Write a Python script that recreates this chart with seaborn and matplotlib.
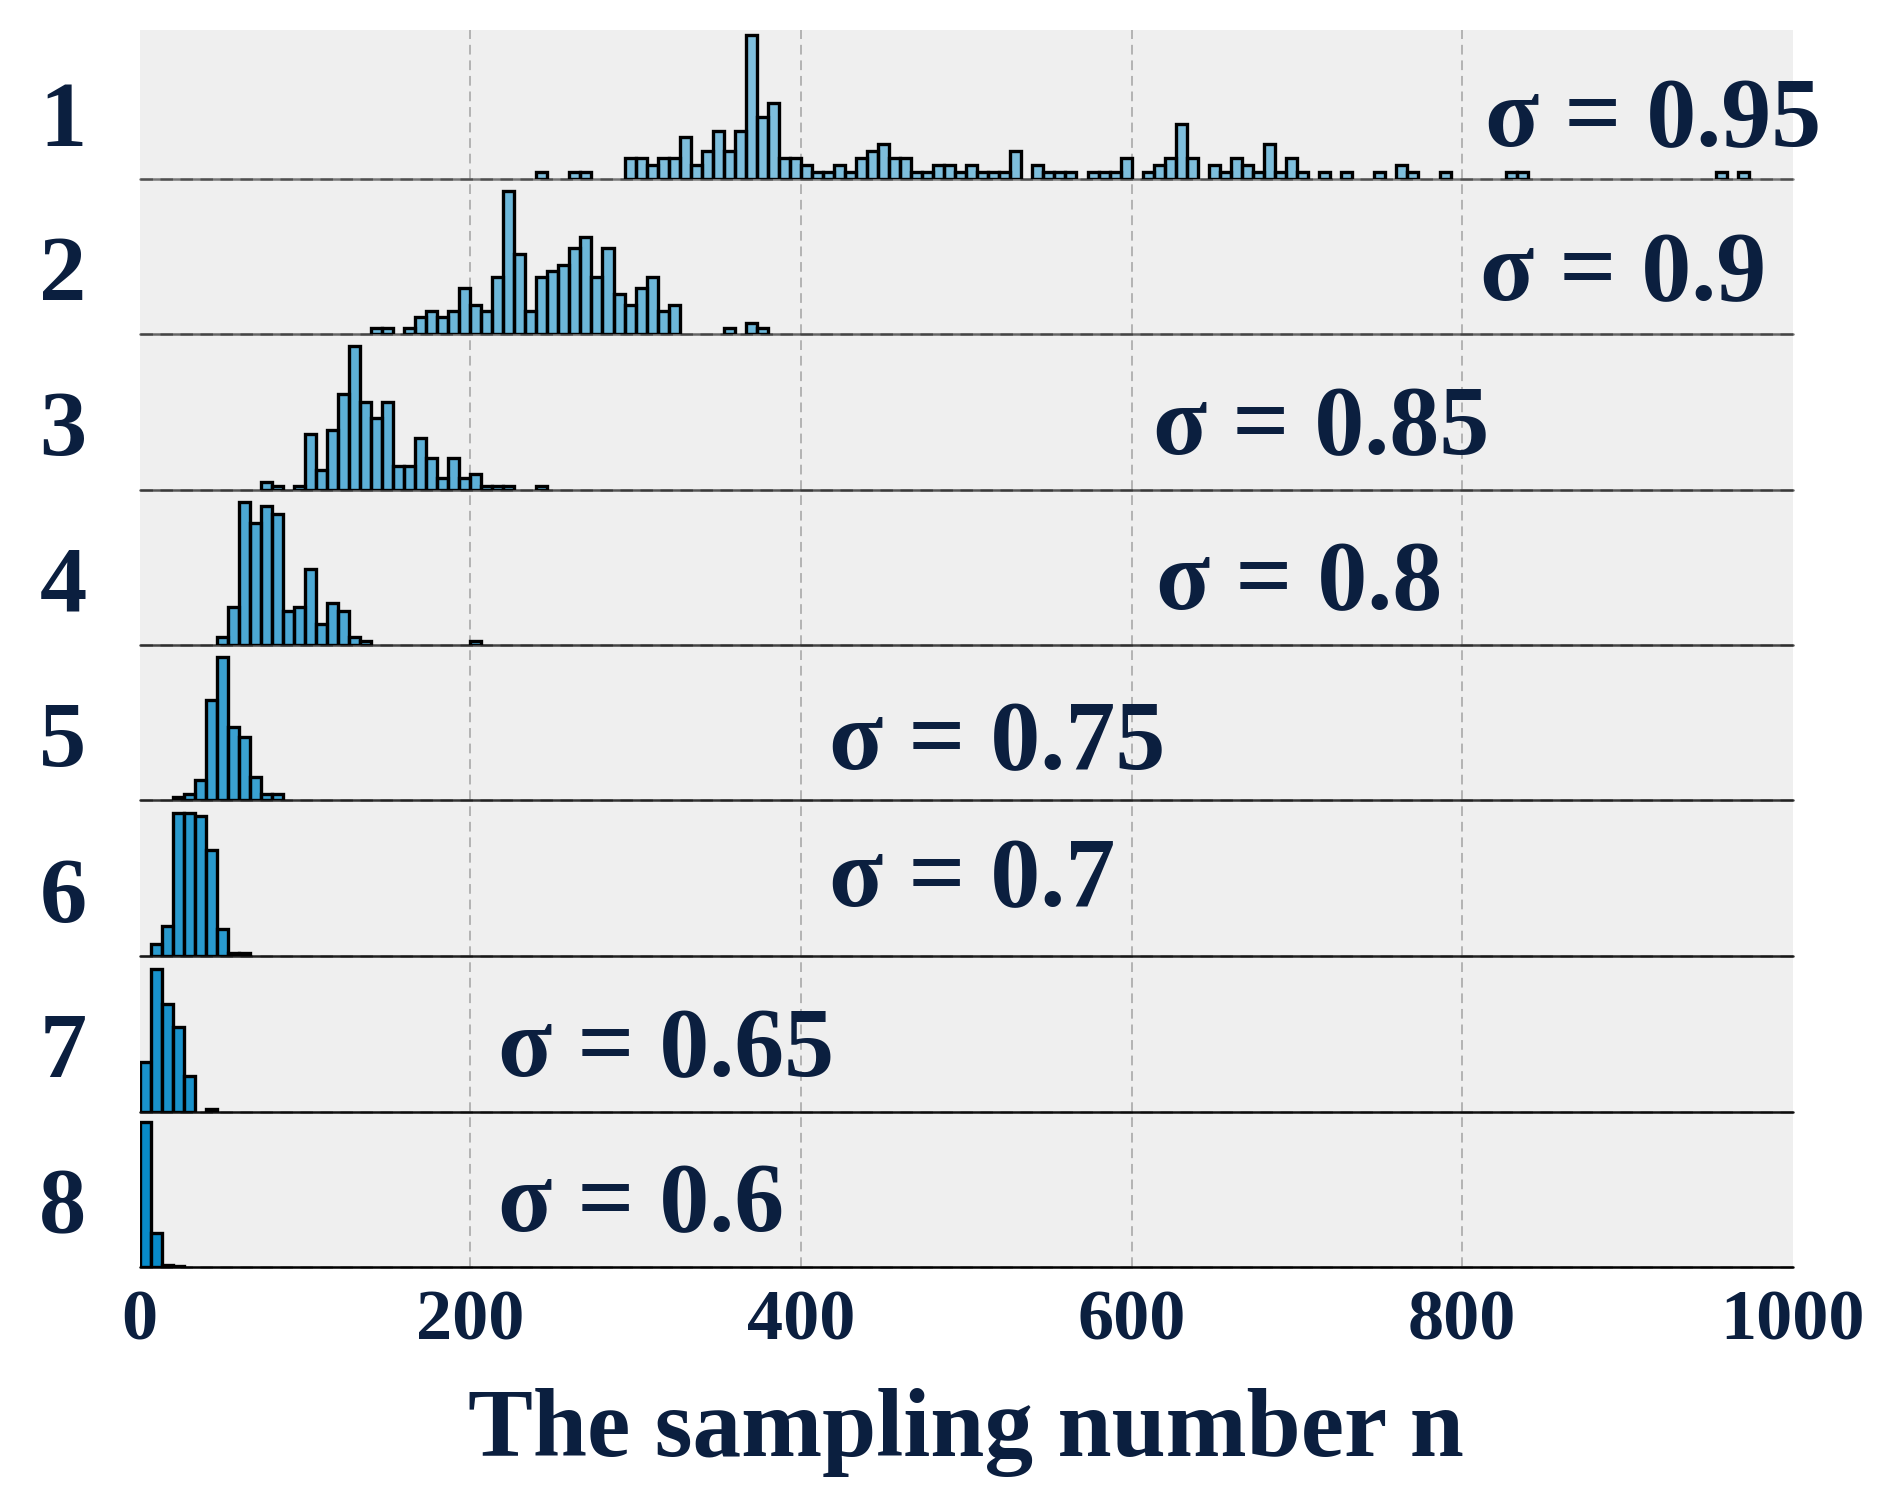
import numpy as np
import pandas as pd
import matplotlib
matplotlib.use("Agg")
import matplotlib.pyplot as plt
import matplotlib.transforms as mtransforms
import seaborn as sns

# ---------------- data ----------------
row_labels = ["1", "2", "3", "4", "5", "6", "7", "8"]
sigma_labels = ["σ = 0.95", "σ = 0.9", "σ = 0.85", "σ = 0.8",
                "σ = 0.75", "σ = 0.7", "σ = 0.65", "σ = 0.6"]

n_bins = 150           # bins over [0, 1000]
x_min, x_max = 0, 1000

# index of the first bin shown for each row, then the bin counts
first_bin = [36, 21, 11, 7, 3, 1, 0, 0]

counts_095 = [1, 0, 0, 1, 1, 0, 0, 0,
              3, 3, 2, 3, 3, 6, 2, 4, 7, 4, 7, 21, 9, 11, 3, 3,
              2, 1, 1, 2, 1, 3, 4, 5, 3, 3, 1, 1, 2, 2, 1, 2, 1, 1, 1, 4,
              0, 2, 1, 1, 1, 0, 1, 1, 1, 3, 0, 1, 2, 3, 8, 3,
              0, 2, 1, 3, 2, 1, 5, 1, 3, 1, 0, 1, 0, 1, 0, 0, 1, 0, 2, 1,
              0, 0, 1, 0, 0, 0, 0, 0, 1, 1,
              0, 0, 0, 0, 0, 0, 0, 0, 0, 0, 0, 0, 0, 0, 0, 0, 0,
              1, 0, 1]
counts_090 = [1, 1, 0, 1, 3, 4, 3, 4, 8, 5, 4, 10, 25, 14, 4, 10, 11, 12,
              15, 17, 10, 15, 7, 5, 8, 10, 4, 5, 0, 0, 0, 0, 1, 0, 2, 1]
counts_085 = [2, 1, 0, 1, 14, 5, 15, 24, 36, 22, 18, 22, 6, 6, 13, 8, 3, 8,
              3, 4, 1, 1, 1, 0, 0, 1]
counts_080 = [2, 9, 34, 29, 33, 31, 8, 9, 18, 5, 10, 8, 2, 1,
              0, 0, 0, 0, 0, 0, 0, 0, 0, 1]
counts_075 = [1, 2, 6, 30, 43, 22, 19, 7, 2, 2]
counts_070 = [4, 10, 47, 47, 46, 35, 9, 1, 1]
counts_065 = [21, 61, 46, 36, 15, 0, 1]
counts_060 = [143, 33, 2, 1]

all_counts = [counts_095, counts_090, counts_085, counts_080,
              counts_075, counts_070, counts_065, counts_060]

x_ticks = [0, 200, 400, 600, 800, 1000]
x_label = "The sampling number n"

# ---------------- layout / style ----------------
label_x = [814, 811, 613, 615, 417, 417, 217, 217]          # σ text x (data)
label_y = [0.22, 0.22, 0.23, 0.23, 0.20, 0.32, 0.23, 0.23]  # σ baseline (axes frac)
y_top_factor = [1.035, 1.085, 1.085, 1.085, 1.08, 1.09, 1.09, 1.07]
alphas = np.linspace(0.47, 0.97, 8)
bar_color = "#0088c8"
navy = "#0b1f3f"
panel_bg = "#efefef"

sns.set_theme(style="white")
plt.rcParams["font.family"] = ["Liberation Serif", "DejaVu Serif"]
plt.rcParams["font.weight"] = "bold"

W, H, DPI = 1889, 1505, 200
fig = plt.figure(figsize=(W / DPI, H / DPI), dpi=DPI)
gs = fig.add_gridspec(8, 1, left=139.5 / W, right=1793 / W,
                      top=1 - 29.8 / H, bottom=1 - 1267 / H, hspace=0,
                      height_ratios=[148.7] + [155.5] * 7)

bw = (x_max - x_min) / n_bins

for i in range(8):
    ax = fig.add_subplot(gs[i])
    ax.set_zorder(20 - i)
    counts = np.asarray(all_counts[i], dtype=float)
    centers = x_min + (first_bin[i] + np.arange(len(counts)) + 0.5) * bw
    df = pd.DataFrame({"n": centers, "count": counts})
    sns.histplot(data=df, x="n", weights="count", bins=n_bins,
                 binrange=(x_min, x_max), ax=ax,
                 color=bar_color, edgecolor="black", linewidth=1.2,
                 alpha=alphas[i], zorder=3)
    for p in ax.patches:
        if p.get_height() <= 0:
            p.set_visible(False)
    ax.set_facecolor(panel_bg)
    ax.set_xlim(x_min, x_max)
    ax.set_ylim(0, counts.max() * y_top_factor[i])
    ax.set_yticks([])
    ax.set_ylabel("")
    ax.set_xlabel("")
    ax.set_xticks(x_ticks)
    ax.grid(False)
    for xv in x_ticks[1:-1]:
        ax.axvline(xv, linestyle=(0, (5, 3)), color="#b3b3b3",
                   linewidth=0.7, zorder=1)
    for s in ax.spines.values():
        s.set_visible(False)
    # baseline
    ax.axhline(0, color="#a0a0a0", linestyle=(0, (5, 3)), linewidth=0.9,
               zorder=2, clip_on=False)
    ax.axhline(0, color="black", alpha=min(1.0, alphas[i] + 0.03),
               linewidth=0.9, zorder=4, clip_on=False)
    trans = mtransforms.blended_transform_factory(ax.transData, ax.transAxes)
    ax.text(label_x[i], label_y[i], sigma_labels[i], transform=trans,
            ha="left", va="baseline", fontsize=36, fontweight="bold",
            color=navy, zorder=10)
    ax.text(-0.032, 0.22, row_labels[i], transform=ax.transAxes,
            ha="right", va="baseline", fontsize=34, fontweight="bold",
            color=navy)
    if i < 7:
        ax.tick_params(axis="x", length=0, labelbottom=False)
    else:
        ax.tick_params(axis="x", length=0, pad=8, labelsize=26,
                       labelcolor=navy)
        for t in ax.get_xticklabels():
            t.set_fontweight("bold")
        ax.set_xlabel(x_label, fontsize=35, fontweight="bold", color=navy,
                      labelpad=12)

fig.savefig("out.png", dpi=DPI, facecolor="white")
